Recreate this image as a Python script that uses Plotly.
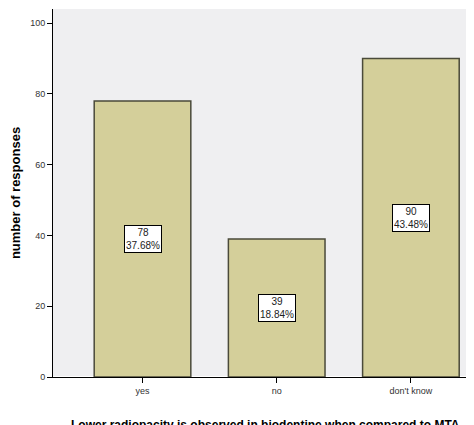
import plotly.graph_objects as go

categories = ["yes", "no", "don't know"]
counts = [78, 39, 90]
percents = ["37.68%", "18.84%", "43.48%"]

fig = go.Figure()
fig.add_trace(go.Bar(
    x=categories, y=counts, width=0.72,
    marker=dict(color="#D4CF9A", line=dict(color="#4a4a3a", width=1.5)),
    showlegend=False, hoverinfo="skip"))

for c, v, p in zip(categories, counts, percents):
    fig.add_annotation(x=c, y=v / 2, text=f"{v}<br>{p}", showarrow=False,
                       bgcolor="white", bordercolor="black", borderwidth=1,
                       borderpad=1, font=dict(size=10, color="#222", family="Liberation Sans"))

# x axis title placed as a paper annotation so it isn't clipped on the right
fig.add_annotation(xref="paper", yref="paper", x=0.5, y=-0.105, xanchor="center", yanchor="top",
                   text="<b>Lower radiopacity is observed in biodentine when compared to MTA</b>",
                   showarrow=False, font=dict(size=12, color="black"))

fig.update_xaxes(range=[-0.667, 2.5], showline=True, linecolor="black", linewidth=1,
                 ticks="outside", ticklen=5, tickcolor="black",
                 tickfont=dict(size=9, color="#333"))
fig.update_yaxes(range=[0, 104], tickvals=[0, 20, 40, 60, 80, 100], showgrid=False,
                 showline=True, linecolor="black", linewidth=1,
                 ticks="outside", ticklen=5, tickcolor="black",
                 tickfont=dict(size=9, color="#333"),
                 title=dict(text="<b>number of responses</b>", font=dict(size=13, color="black"), standoff=6))
fig.update_layout(width=474, height=425, margin=dict(l=45, r=4, t=1, b=48),
                  plot_bgcolor="#EFEFF1", paper_bgcolor="white",
                  font=dict(family="Liberation Sans"))
fig.update_layout(margin=dict(b=56))
fig.write_html("out.html")
